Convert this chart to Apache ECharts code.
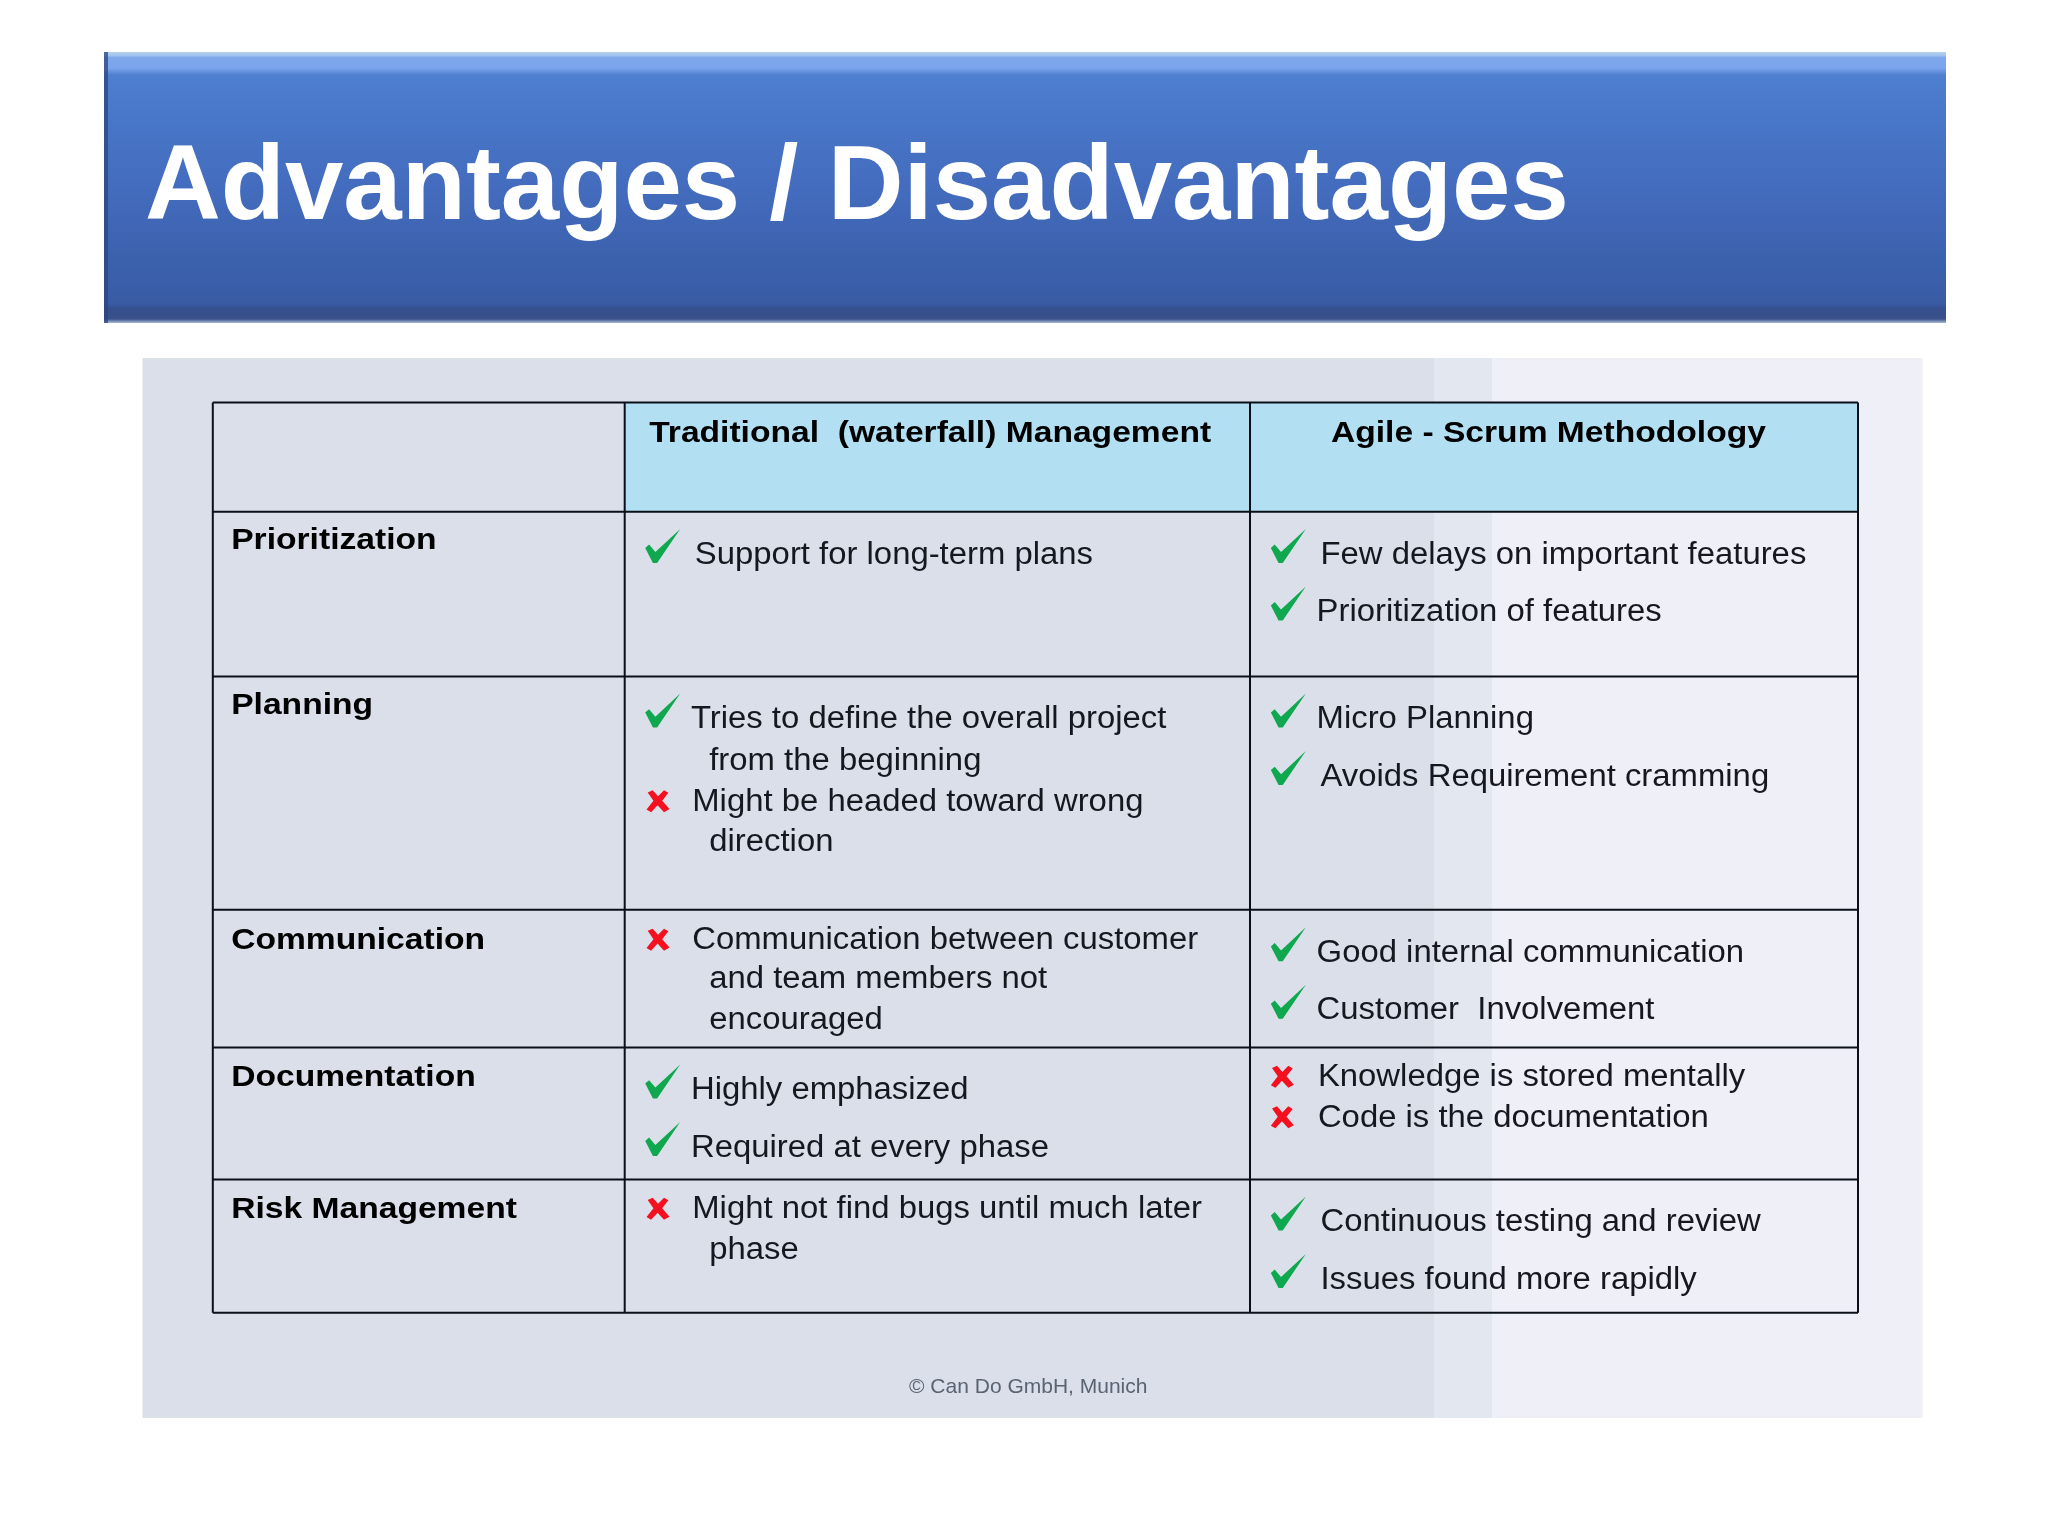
<!DOCTYPE html>
<html><head><meta charset="utf-8">
<style>html,body{margin:0;padding:0;background:#fff}#c{width:2048px;height:1536px}</style>
<script src="https://cdn.jsdelivr.net/npm/echarts@6/dist/echarts.min.js"></script>
</head><body><div id="c"></div>
<script>
// ---- content ----
const titleText = 'Advantages / Disadvantages';
const footerText = '\u00A9 Can Do GmbH, Munich';
const columnHeads = ['Traditional  (waterfall) Management', 'Agile - Scrum Methodology'];
const rowLabels = ['Prioritization', 'Planning', 'Communication', 'Documentation', 'Risk Management'];
const traditionalLines = ['Support for long-term plans', 'Tries to define the overall project', 'from the beginning', 'Might be headed toward wrong', 'direction', 'Communication between customer', 'and team members not', 'encouraged', 'Highly emphasized', 'Required at every phase', 'Might not find bugs until much later', 'phase'];
const agileLines = ['Few delays on important features', 'Prioritization of features', 'Micro Planning', 'Avoids Requirement cramming', 'Good internal communication', 'Customer  Involvement', 'Knowledge is stored mentally', 'Code is the documentation', 'Continuous testing and review', 'Issues found more rapidly'];
const traditionalMarks = ['check', 'check', 'cross', 'cross', 'check', 'check', 'cross'];
const agileMarks = ['check', 'check', 'check', 'check', 'check', 'check', 'cross', 'cross', 'check', 'check'];

// ---- layout (pixels of the 2048x1536 page) ----
const S = 2048 / 1568;
const columnEdges = [212.8, 624.7, 1250, 1858];
const rowEdges = [402.6, 511.8, 676.5, 909.8, 1047.4, 1179.4, 1312.8];
const traditionalLineAt = [[532,425],[529,551],[543,583],[530,614],[543,645],[530,720],[543,750],[543,781],[529,835],[529,879],[530,926],[543,957]];
const agileLineAt = [[1011,425],[1008,469],[1008,551],[1011,595],[1008,730],[1008,774],[1009,825],[1009,856],[1011,936],[1011,980]];
const traditionalMarkAt = [[494,405],[494,531],[495,605],[495,711],[494,815],[494,859],[495,917]];
const agileMarkAt = [[973,405],[973,449],[973,531],[973,575],[973,710],[973,754],[973,816],[973,847],[973,916],[973,960]];
const rowLabelY = [414, 540, 720, 825, 926];
const headAt = [[497,332],[1019,332]];
const checkShape = [[0,.56],[.11,.46],[.29,.68],[1,0],[.34,1],[.22,1]];
const crossShape = [[.05,.1],[.27,0],[.5,.28],[.76,0],[.95,.12],[.68,.48],[1,.86],[.76,1],[.48,.68],[.2,1],[0,.88],[.3,.48]];
const BODY = '31px "Liberation Sans"', BOLD = 'bold 30px "Liberation Sans"';

const chart = echarts.init(document.getElementById('c'), null, {renderer:'canvas', width:2048, height:1536});
const G = echarts.graphic;
function rectEl(api, x0, y0, x1, y1, fill) {
  const a = api.coord([x0, y0]), b = api.coord([x1, y1]);
  return {type:'rect', shape:{x:a[0], y:a[1], width:b[0]-a[0], height:b[1]-a[1]}, style:{fill}};
}
function textEl(api, x, y, text, font, fill, sx, extra) {
  const p = api.coord([x, y]);
  return {type:'text', x:p[0], y:p[1], scaleX:sx, style:Object.assign({text, x:0, y:0, font, fill, textAlign:'left', textVerticalAlign:'middle'}, extra||{})};
}
const bannerFill = new G.LinearGradient(0,0,0,1,[
  {offset:0,color:'#B4D2F0'},{offset:.012,color:'#A4C6EE'},{offset:.02,color:'#7FA8EC'},{offset:.06,color:'#7AA4EC'},
  {offset:.085,color:'#4F7FD0'},{offset:.25,color:'#4876C8'},{offset:.5,color:'#446CBE'},{offset:.75,color:'#3C62AE'},
  {offset:.93,color:'#395BA4'},{offset:.945,color:'#34508F'},{offset:.985,color:'#3A5088'},{offset:1,color:'#A9BBD6'}]);
const backdrop = [
  api => rectEl(api, 104, 52, 1946, 323, bannerFill),
  api => rectEl(api, 104, 52, 108, 323, 'rgba(45,70,125,0.75)'),
  api => rectEl(api, 142.5, 358, 1434, 1418, '#DADFEA'),
  api => rectEl(api, 1434, 358, 1492, 1418, '#E3E7F0'),
  api => rectEl(api, 1492, 358, 1922.5, 1418, '#EEEFF7'),
  api => rectEl(api, columnEdges[1], rowEdges[0], columnEdges[3], rowEdges[1], '#B2E0F2')
];
const rules = [];
columnEdges.forEach(x => rules.push([x, rowEdges[0], x, rowEdges[6]]));
rowEdges.forEach(y => rules.push([columnEdges[0], y, columnEdges[3], y]));
const marks = [];
traditionalMarks.forEach((m,i)=>marks.push([m, traditionalMarkAt[i]]));
agileMarks.forEach((m,i)=>marks.push([m, agileMarkAt[i]]));
const texts = [];
const INK = '#15181E';
texts.push([145, 190, titleText, 'bold 105px "Liberation Sans"', '#FFFFFF', 1.0, {shadowColor:'rgba(20,30,70,0.75)', shadowBlur:5, shadowOffsetX:2, shadowOffsetY:2}]);
texts.push([696*S, 1062*S, footerText, '21px "Liberation Sans"', '#5A6472', 1.0]);
columnHeads.forEach((t,i)=>texts.push([headAt[i][0]*S, headAt[i][1]*S, t, BOLD, '#000', 1.12]));
rowLabels.forEach((t,i)=>texts.push([177*S, rowLabelY[i]*S, t, BOLD, '#000', 1.12]));
traditionalLines.forEach((t,i)=>texts.push([traditionalLineAt[i][0]*S, traditionalLineAt[i][1]*S, t, BODY, INK, 1.06]));
agileLines.forEach((t,i)=>texts.push([agileLineAt[i][0]*S, agileLineAt[i][1]*S, t, BODY, INK, 1.06]));

const idx = a => a.map((_,i)=>[i]);
const base = {type:'custom', coordinateSystem:'cartesian2d', silent:true, animation:false, clip:false, encode:{x:0,y:0}};
chart.setOption({
  animation:false,
  backgroundColor:'#ffffff',
  grid:{left:0,right:0,top:0,bottom:0},
  xAxis:{type:'value',min:0,max:2048,show:false},
  yAxis:{type:'value',min:0,max:1536,inverse:true,show:false},
  series:[
    Object.assign({},base,{name:'backdrop',z:1,data:idx(backdrop),renderItem:(p,api)=>backdrop[p.dataIndex](api)}),
    Object.assign({},base,{name:'rules',z:2,data:idx(rules),renderItem:(p,api)=>{
      const r=rules[p.dataIndex],a=api.coord([r[0],r[1]]),b=api.coord([r[2],r[3]]);
      return {type:'line',shape:{x1:a[0],y1:a[1],x2:b[0],y2:b[1]},style:{stroke:'#0A0F18',lineWidth:2}};
    }}),
    Object.assign({},base,{name:'marks',z:3,data:idx(marks),renderItem:(p,api)=>{
      const m=marks[p.dataIndex],o=[m[1][0]*S,m[1][1]*S];
      const isCheck=m[0]==='check',w=isCheck?35:23,h=isCheck?34:22;
      const pts=(isCheck?checkShape:crossShape).map(q=>api.coord([o[0]+q[0]*w,o[1]+q[1]*h]));
      return {type:'polygon',shape:{points:pts},style:{fill:isCheck?'#0FA84F':'#F4101E'}};
    }}),
    Object.assign({},base,{name:'texts',z:4,data:idx(texts),renderItem:(p,api)=>{
      const t=texts[p.dataIndex];
      return textEl(api,t[0],t[1],t[2],t[3],t[4],t[5],t[6]);
    }})
  ]
});
</script></body></html>
